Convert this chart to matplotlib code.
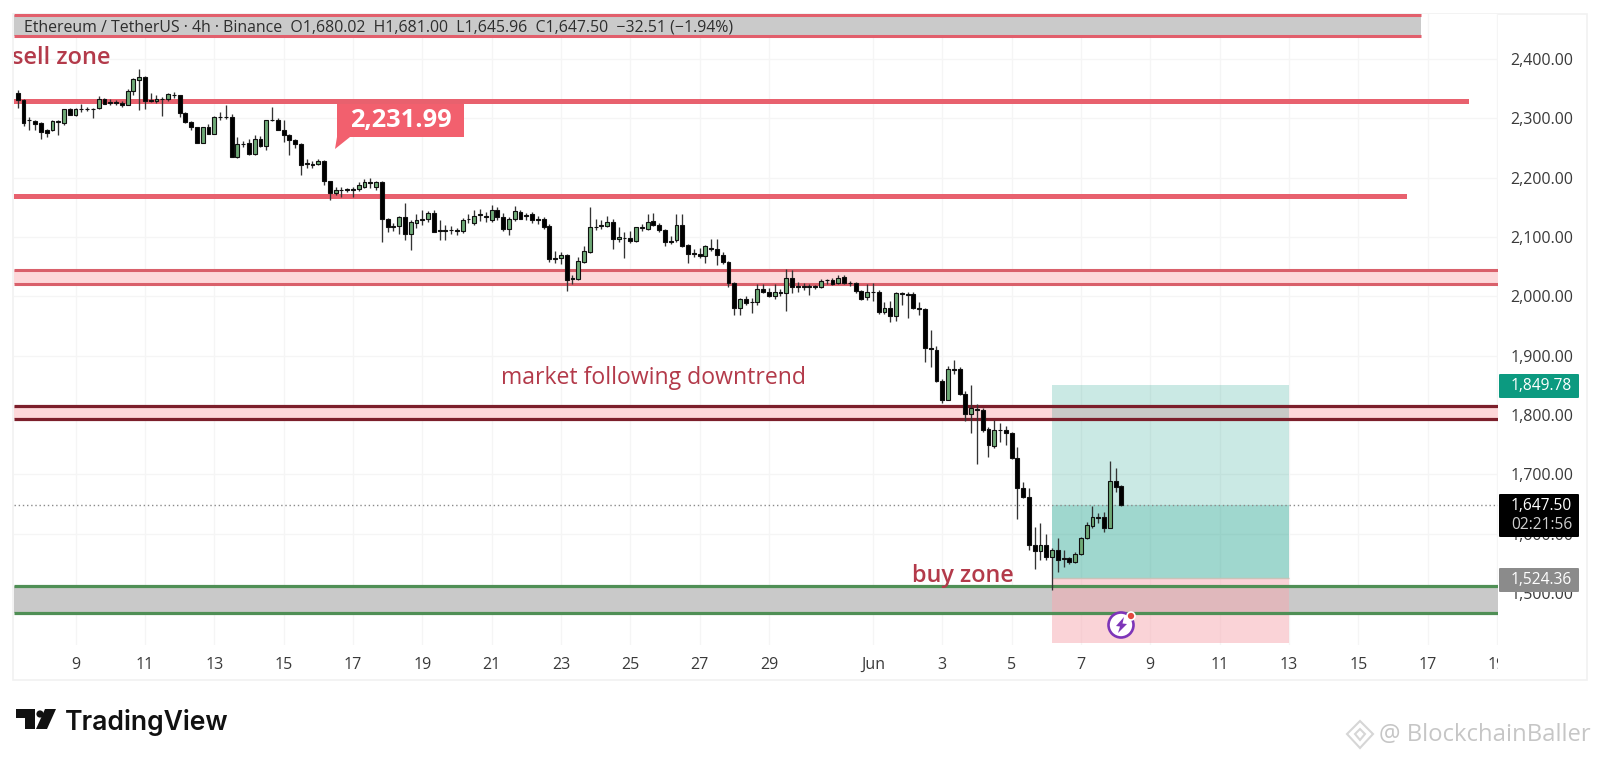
import matplotlib
matplotlib.use("Agg")
import matplotlib.pyplot as plt
from matplotlib.patches import Polygon, Rectangle, Circle, FancyBboxPatch
from matplotlib.transforms import Bbox

W, H = 1600, 760
FIRST_BAR_DAY = 7 + 1 / 3

opens = [2343,2331,2298,2296,2292,2280,2280,2294,2292,2315,2306,2315,2316,2316,2317,2332,2326,2327,2326,2323,
         2346,2365,2370,2331,2329,2333,2332,2340,2339,2309,2294,2285,2259,2285,2274,2302,2303,2302,2235,2257,
         2258,2240,2266,2253,2298,2298,2281,2272,2263,2257,2223,2223,2223,2228,2194,2175,2180,2180,2181,2181,
         2185,2192,2184,2192,2130,2117,2119,2133,2105,2124,2129,2130,2141,2110,2111,2111,2110,2110,2130,2124,
         2137,2135,2129,2145,2133,2113,2131,2142,2137,2138,2130,2130,2118,2064,2064,2070,2030,2029,2058,2075,
         2116,2120,2119,2126,2096,2098,2099,2093,2115,2113,2127,2121,2112,2093,2095,2120,2086,2073,2072,2068,
         2081,2079,2070,2057,2023,1981,1995,1990,1991,2013,2008,2000,2007,2006,2031,2017,2017,2016,2016,2016,
         2027,2028,2022,2033,2023,2022,2009,1999,2008,2008,1973,1980,1967,2005,2004,2004,1981,1978,1913,1910,
         1858,1825,1877,1878,1835,1801,1810,1808,1777,1748,1775,1774,1769,1728,1677,1662,1580,1571,1580,1561,
         1572,1557,1558,1552,1566,1593,1613,1626,1627,1610,1689,1680.02]
highs = [2348,2333,2303,2298,2294,2282,2297,2298,2316,2317,2317,2324,2320,2318,2337,2334,2332,2331,2329,2350,
         2368,2383,2372,2342,2340,2336,2342,2345,2340,2311,2296,2286,2286,2290,2304,2310,2322,2308,2269,2262,
         2265,2272,2271,2298,2320,2300,2298,2274,2265,2258,2232,2228,2231,2229,2195,2185,2184,2182,2184,2192,
         2198,2199,2194,2195,2132,2124,2136,2157,2128,2138,2146,2143,2145,2129,2120,2118,2115,2132,2138,2146,
         2147,2142,2154,2150,2140,2134,2152,2145,2141,2142,2136,2134,2122,2076,2074,2071,2036,2066,2084,2150,
         2130,2128,2135,2130,2117,2109,2110,2117,2122,2138,2141,2123,2114,2101,2139,2139,2088,2080,2082,2086,
         2097,2097,2075,2060,2024,1997,2001,1997,2020,2020,2014,2020,2012,2046,2044,2024,2023,2020,2019,2029,
         2029,2031,2036,2036,2025,2024,2010,2021,2022,2010,1990,1992,2008,2008,2007,2007,1990,1980,1943,1917,
         1860,1882,1892,1880,1840,1850,1819,1812,1780,1791,1786,1782,1771,1746,1687,1676,1611,1617,1599,1575,
         1592,1573,1560,1568,1594,1620,1646,1635,1636,1722,1711,1681]
lows = [2318,2287,2280,2280,2266,2268,2279,2272,2288,2305,2304,2311,2312,2300,2316,2324,2322,2323,2320,2322,
        2340,2314,2315,2327,2326,2304,2330,2335,2303,2292,2280,2258,2258,2273,2273,2298,2299,2235,2234,2252,
        2239,2239,2252,2247,2296,2280,2260,2238,2250,2204,2216,2216,2221,2188,2162,2170,2167,2176,2168,2178,
        2183,2182,2180,2092,2108,2110,2105,2095,2078,2115,2120,2125,2109,2095,2095,2105,2103,2106,2124,2120,
        2127,2125,2126,2128,2110,2104,2127,2130,2128,2124,2122,2114,2058,2056,2054,2009,2021,2027,2056,2073,
        2111,2113,2116,2079,2092,2064,2090,2091,2110,2111,2118,2108,2084,2088,2091,2083,2056,2066,2064,2056,
        2076,2052,2054,2015,1968,1968,1986,1971,1985,2005,1998,1996,2000,1975,2005,2008,2011,2002,2013,2014,
        2021,2019,2020,2021,2017,2006,1994,1994,1992,1970,1970,1957,1958,1985,1963,1978,1968,1890,1881,1855,
        1820,1825,1869,1834,1790,1769,1718,1772,1729,1745,1755,1750,1726,1625,1660,1572,1540,1555,1555,1505,
        1535,1544,1548,1550,1564,1590,1609,1617,1602,1609,1670,1645.96]
closes = [2331,2292,2297,2291,2277,2276,2296,2295,2315,2306,2315,2316,2315,2315,2332,2325,2327,2326,2322,2347,
          2366,2370,2330,2329,2333,2332,2341,2339,2309,2294,2285,2259,2285,2274,2302,2303,2302,2235,2257,2256,
          2240,2266,2253,2298,2297,2281,2272,2263,2257,2221,2224,2222,2228,2194,2175,2180,2179,2181,2180,2188,
          2192,2191,2192,2130,2117,2118,2133,2105,2125,2128,2130,2141,2109,2112,2110,2112,2111,2128,2131,2135,
          2138,2134,2145,2133,2113,2131,2143,2131,2136,2129,2129,2116,2063,2063,2070,2027,2029,2060,2076,2116,
          2117,2119,2126,2096,2100,2099,2094,2116,2116,2126,2121,2112,2092,2092,2120,2085,2072,2072,2068,2084,
          2080,2070,2057,2022,1981,1995,1989,1991,2013,2008,2001,2008,2006,2031,2016,2015,2016,2017,2017,2026,
          2027,2021,2031,2023,2022,2009,1996,2007,2007,1973,1980,1967,2005,2004,2003,1981,1979,1912,1911,1858,
          1825,1878,1876,1835,1801,1811,1809,1774,1749,1774,1774,1769,1727,1676,1661,1580,1571,1580,1561,1572,
          1556,1558,1552,1566,1593,1614,1627,1627,1610,1689,1679,1647.5]

price_ticks = [1500,1600,1700,1800,1900,2000,2100,2200,2300,2400]
price_labels = ["1,500.00","1,600.00","1,700.00","1,800.00","1,900.00","2,000.00","2,100.00","2,200.00","2,300.00","2,400.00"]
day_ticks = [9,11,13,15,17,19,21,23,25,27,29,32,34,36,38,40,42,44,46,48,50]
day_labels = ["9","11","13","15","17","19","21","23","25","27","29","Jun","3","5","7","9","11","13","15","17","19"]

red_lines = [(2323.5, 2333, 49.2), (2164, 2172, 47.4)]
pink_zone = (2020, 2045)
dark_zone = (1792.5, 1815)
buy_zone = (1466.5, 1512)
position_start, position_end = 37.17, 44
target, entry, stop, last_price = 1849.78, 1524.36, 1416, 1647.50
header_box = (2439, 2474, 47.8)

FONT = "Open Sans"
plt.rcParams["font.family"] = [FONT, "DejaVu Sans"]

fig = plt.figure(figsize=(W / 100, H / 100), dpi=100, facecolor="white")
L, R, T, B = 13.5, 1498, 14, 645
ax = fig.add_axes([L / W, 1 - B / H, (R - L) / W, (B - T) / H])
ax.set_xlim(7.21, 50.03)
ax.set_ylim(1412, 2476)
for s in ax.spines.values():
    s.set_visible(False)

def fx(x): return x / W
def fy(y): return 1 - y / H
def pts(seq): return [(fx(x), fy(y)) for x, y in seq]

# outer frame
fig.add_artist(Rectangle((fx(13), fy(680)), 1574 / W, 666 / H, fc="none", ec="#f1f1f1", lw=1.2, zorder=-1))

ax.set_yticks(price_ticks, price_labels)
ax.set_xticks(day_ticks, day_labels)
ax.yaxis.tick_right()
ax.grid(True, color="#f5f5f5", lw=1)
ax.set_axisbelow(True)
ax.tick_params(axis="both", length=0, labelsize=11.5, labelcolor="#3a3a3a")
ax.tick_params(axis="y", pad=9)
ax.tick_params(axis="x", pad=8.5)
for lab in ax.get_xticklabels():
    lab.set_clip_on(True)
    lab.set_clip_box(Bbox([[0, 0], [R, H]]))

x0, x1 = ax.get_xlim()

# header box and horizontal zones
lo, hi, xe = header_box
ax.fill_between([x0, xe], lo, hi, color="#cacaca", lw=0, zorder=1)
ax.hlines([lo, hi], x0, xe, color="#e25f6c", lw=2.2, zorder=2)
for lo, hi, xe in red_lines:
    ax.fill_between([x0, xe], lo, hi, color="#e8616e", lw=0, zorder=2)
lo, hi = pink_zone
ax.fill_between([x0, x1], lo, hi, color="#fdd8da", lw=0, zorder=1)
ax.hlines([lo, hi], x0, x1, color="#d9606b", lw=2.2, zorder=2)
lo, hi = dark_zone
ax.fill_between([x0, x1], lo, hi, color="#fdd8da", lw=0, zorder=1)
ax.hlines([lo, hi], x0, x1, color="#7c1f2b", lw=2.3, zorder=4)
lo, hi = buy_zone
ax.fill_between([x0, x1], lo, hi, color="#c9c9c9", lw=0, zorder=1)
ax.hlines([lo, hi], x0, x1, color="#4f8f55", lw=2.3, zorder=4)

# position tool
ax.fill_between([position_start, position_end], entry, target, color="#089981", alpha=0.21, lw=0, zorder=3)
ax.fill_between([position_start, position_end], entry, last_price, color="#089981", alpha=0.22, lw=0, zorder=3)
ax.fill_between([position_start, position_end], stop, entry, color="#f7a8b0", alpha=0.5, lw=0, zorder=3)
ax.hlines(entry, position_start, position_end, color="#c9c2b8", lw=1, zorder=3)
ax.hlines(last_price, x0, x1, color="#8a8a8a", lw=1, linestyles=(0, (1, 2)), zorder=3)

# candles
days = [FIRST_BAR_DAY + i / 6 for i in range(len(opens))]
ax.vlines(days, lows, highs, color="#333333", lw=0.95, zorder=5)
bottoms = [min(o, c) for o, c in zip(opens, closes)]
heights = [max(abs(c - o), 0.6) for o, c in zip(opens, closes)]
colors = ["#6ea976" if c >= o else "#000000" for o, c in zip(opens, closes)]
ax.bar(days, heights, bottom=bottoms, width=0.112, color=colors, edgecolor="#101010", lw=0.8, zorder=6)

# text labels
txt = dict(transform=fig.transFigure, va="center", zorder=20)
ax.text(fx(24), fy(27.5), "Ethereum / TetherUS · 4h · Binance  O1,680.02  H1,681.00  L1,645.96  C1,647.50  −32.51 (−1.94%)",
        fontsize=11.4, color="#2e2e2e", ha="left", **txt)
zone_color = "#b33a4a"
t = ax.text(fx(12), fy(57.5), "sell zone", fontsize=17, color=zone_color, ha="left", fontweight="semibold", **txt)
t.set_clip_box(Bbox([[L, 0], [W, H]])); t.set_clip_on(True)
ax.text(fx(501), fy(378), "market following downtrend", fontsize=16.6, color=zone_color, ha="left", **txt)
ax.text(fx(912), fy(576), "buy zone", fontsize=16.8, color=zone_color, ha="left", fontweight="semibold", **txt)

# callout
callout = [(337, 104), (464, 104), (464, 137), (350, 137), (335, 149), (337, 137)]
fig.add_artist(Polygon(pts(callout), closed=True, fc="#f2606e", ec="none", transform=fig.transFigure, zorder=8))
fig.text(fx(401), fy(120.5), "2,231.99", color="white", fontsize=18.3, fontweight="bold", ha="center", va="center", zorder=9)

# price tags
def tag(y0, y1, color):
    fig.add_artist(FancyBboxPatch((fx(1499), fy(y1)), 80 / W, (y1 - y0) / H, boxstyle="round,pad=0,rounding_size=0.001",
                                  fc=color, ec="none", transform=fig.transFigure, zorder=8))
tag(374, 398, "#0c9a80")
fig.text(fx(1572), fy(386), "1,849.78", color="white", fontsize=11.2, ha="right", va="center", zorder=9)
tag(494, 537, "#000000")
fig.text(fx(1572), fy(506), "1,647.50", color="white", fontsize=11.2, ha="right", va="center", zorder=9)
fig.text(fx(1572), fy(525), "02:21:56", color="#cfcfcf", fontsize=11.2, ha="right", va="center", zorder=9)
tag(568, 592, "#8b8b8b")
fig.text(fx(1572), fy(580), "1,524.36", color="white", fontsize=11.2, ha="right", va="center", zorder=9)

# flash icon
icon_ax = fig.add_axes([1106 / W, 1 - 641 / H, 32 / W, 32 / H], zorder=12)
icon_ax.set_xlim(0, 32); icon_ax.set_ylim(32, 0); icon_ax.axis("off")
icon_ax.add_patch(Circle((15, 16), 12.5, fc="white", ec="#7d35b8", lw=1.9))
icon_ax.add_patch(Polygon([(18, 8), (10, 17), (14, 17.5), (12, 24), (21, 15), (16.5, 14.5)], fc="#7d35b8", ec="none"))
icon_ax.add_patch(Circle((25, 7), 4, fc="#e2483f", ec="white", lw=1.2))

# TradingView logo
logo = dict(transform=fig.transFigure, fc="#111111", ec="none", zorder=10)
fig.add_artist(Polygon(pts([(16, 709), (35, 709), (35, 729), (25, 729), (25, 718), (16, 718)]), **logo))
fig.add_artist(Polygon(pts([(45, 709), (56, 709), (47, 729), (36, 729)]), **logo))
logo_dot = fig.add_axes([35 / W, 1 - 719 / H, 10 / W, 10 / H]); logo_dot.set_xlim(0, 10); logo_dot.set_ylim(0, 10); logo_dot.axis("off")
logo_dot.add_patch(Circle((5, 5), 3.6, fc="#111111", ec="none"))
fig.text(fx(65), fy(722), "TradingView", color="#111111", fontsize=19.1, fontweight="semibold", family=["Inter", "DejaVu Sans"], ha="left", va="center")

# watermark
fig.text(fx(1379), fy(735), "@ BlockchainBaller", color="#c6c6c6", fontsize=17.2, ha="left", va="center", zorder=10)
mark = dict(transform=fig.transFigure, fc="none", ec="#d6d6d6", lw=1.5, zorder=10)
fig.add_artist(Polygon(pts([(1360, 721), (1373, 734), (1360, 748), (1347, 734)]), **mark))
fig.add_artist(Polygon(pts([(1360, 729), (1365, 734), (1360, 740), (1355, 734)]), **mark))

fig.savefig("out.png", dpi=100, facecolor="white")
